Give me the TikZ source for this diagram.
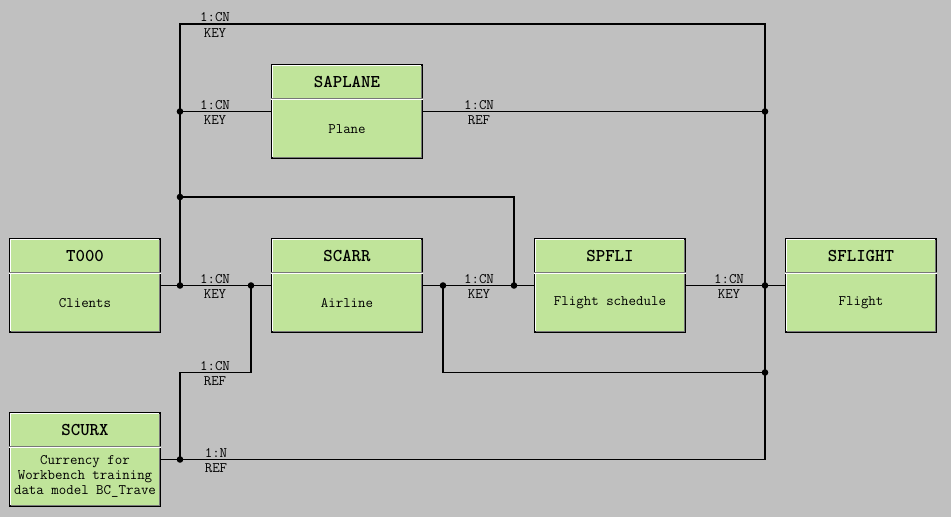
\documentclass[tikz,border=0pt]{standalone}
\definecolor{bggray}{RGB}{192,192,192}
\definecolor{tblgreen}{RGB}{192,228,154}
\definecolor{edgegray}{RGB}{120,120,120}
\tikzset{
  tbl/.style={draw=black, line width=1.6pt, fill=tblgreen, minimum width=150pt, minimum height=93pt, inner sep=0pt},
  ttl/.style={font=\ttfamily\fontseries{b}\fontsize{18}{20}\selectfont},
  txt/.style={font=\ttfamily\fontsize{14.5}{14.6}\selectfont, align=center},
  card/.style={font=\ttfamily\fontsize{14.5}{15.5}\selectfont, align=center, inner sep=0pt},
  link/.style={line width=1.1pt},
  hilite/.style={white, line width=1.2pt},
  lowlite/.style={edgegray, line width=1.2pt},
}
\begin{document}
\begin{tikzpicture}[x=1pt, y=-1pt]
    \fill[bggray] (0,0) rectangle (951,517);
    \useasboundingbox (0,0) rectangle (951,517);

    % Tables
    \node[tbl] (t000)    at (85,285.5)  {};
    \node[tbl] (scarr)   at (347,285.5) {};
    \node[tbl] (spfli)   at (610,285.5) {};
    \node[tbl] (sflight) at (861,285.5) {};
    \node[tbl] (saplane) at (347,111.5) {};
    \node[tbl] (scurx)   at (85,459.5)  {};

    % 3D edges and title dividers
    \foreach \b in {t000,scarr,spfli,sflight,saplane,scurx} {
      \draw[hilite] ([xshift=1.4pt,yshift=1.4pt]\b.south west) |- ([xshift=-1.4pt,yshift=-1.4pt]\b.north east);
      \draw[lowlite] ([xshift=1.4pt,yshift=1.4pt]\b.south west) -| ([xshift=-1.4pt,yshift=-1.4pt]\b.north east);
      \draw[edgegray, line width=1pt] ([yshift=-33.8pt]\b.north west) -- ([yshift=-33.8pt]\b.north east);
      \draw[white, line width=1pt] ([yshift=-35pt]\b.north west) -- ([yshift=-35pt]\b.north east);
    }

    % Titles and descriptions
    \node[ttl] (t000h)    at (85,256)  {T000};
    \node[txt] (t000d)    at (85,303)  {Clients};
    \node[ttl] (scarrh)   at (347,256) {SCARR};
    \node[txt] (scarrd)   at (347,303) {Airline};
    \node[ttl] (spflih)   at (610,256) {SPFLI};
    \node[txt] (spflid)   at (610,303) {Flight schedule};
    \node[ttl] (sflighth) at (861,256) {SFLIGHT};
    \node[txt] (sflightd) at (861,303) {Flight};
    \node[ttl] (saplaneh) at (347,82)  {SAPLANE};
    \node[txt] (saplaned) at (347,129) {Plane};
    \node[ttl] (scurxh)   at (85,430)  {SCURX};
    \node[txt] (scurxd)   at (85,476.5) {Currency for\\Workbench training\\data model BC\_Trave};

    % Junctions
    \coordinate (nw) at (180,24);
    \coordinate (ne) at (765,24);
    \coordinate (ja) at (180,111.5);
    \coordinate (jb) at (765,111.5);
    \coordinate (jc) at (180,197);
    \coordinate (jd) at (514,197);
    \coordinate (je) at (180,285.5);
    \coordinate (jf) at (251,285.5);
    \coordinate (jg) at (443,285.5);
    \coordinate (jh) at (514,285.5);
    \coordinate (ji) at (765,285.5);
    \coordinate (jk) at (443,372.5);
    \coordinate (jl) at (765,372.5);
    \coordinate (jm) at (180,372.5);
    \coordinate (jn) at (251,372.5);
    \coordinate (jo) at (180,459.5);
    \coordinate (jp) at (765,459.5);

    % Relationships
    \draw[link] (je) -- (nw) -- (ne) -- (jp);
    \draw[link] (ja) -- (saplane.west);
    \draw[link] (saplane.east) -- (jb);
    \draw[link] (jc) -- (jd) -- (jh);
    \draw[link] (t000.east) -- (scarr.west);
    \draw[link] (scarr.east) -- (spfli.west);
    \draw[link] (spfli.east) -- (sflight.west);
    \draw[link] (jg) -- (jk) -- (jl);
    \draw[link] (scurx.east) -- (jp);
    \draw[link] (jo) -- (jm) -- (jn) -- (jf);

    \foreach \j in {ja,jb,jc,je,jf,jg,jh,ji,jl,jo}
      \fill (\j) circle (3.3pt);

    % Cardinalities
    \node[card] (c1) at (215,25)    {1:CN\\KEY};
    \node[card] (c2) at (215,112.5) {1:CN\\KEY};
    \node[card] (c3) at (479,112.5) {1:CN\\REF};
    \node[card] (c4) at (215,286.5) {1:CN\\KEY};
    \node[card] (c5) at (479,286.5) {1:CN\\KEY};
    \node[card] (c6) at (729,286.5) {1:CN\\KEY};
    \node[card] (c7) at (215,373.5) {1:CN\\REF};
    \node[card] (c8) at (216,460.5) {1:N\\REF};
  \end{tikzpicture}
\end{document}
